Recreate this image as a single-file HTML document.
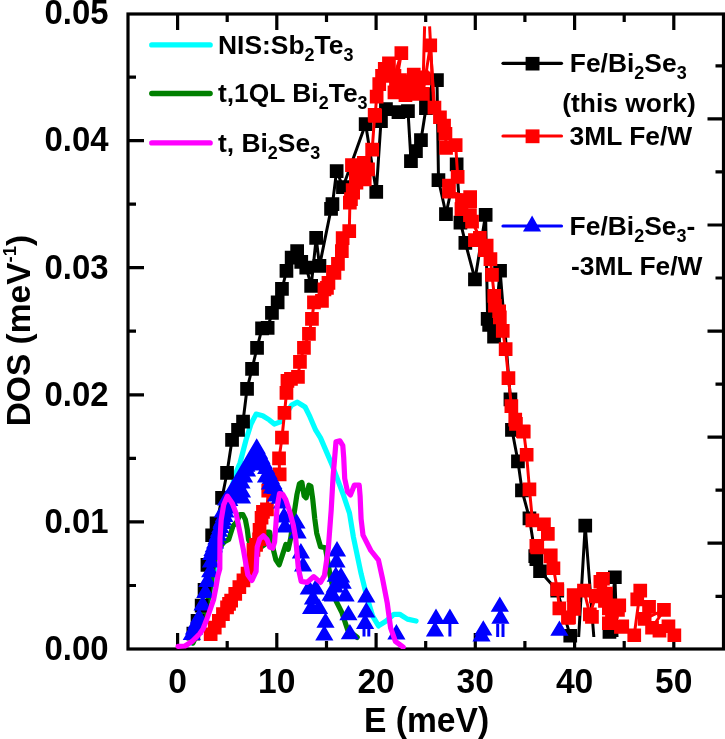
<!DOCTYPE html>
<html><head><meta charset="utf-8"><style>
html,body{margin:0;padding:0;background:#fff;width:725px;height:739px;overflow:hidden}
svg{display:block}
.t{font-family:'Liberation Sans',Arial,sans-serif;font-weight:bold;font-size:35px;fill:#000}
.l{font-family:'Liberation Sans',Arial,sans-serif;font-weight:bold;font-size:26.4px;fill:#000}
</style></head><body>
<svg width="725" height="739" viewBox="0 0 725 739">
<defs><clipPath id="cp"><rect x="128" y="14" width="595.5" height="635"/></clipPath><clipPath id="cl"><rect x="128" y="14" width="595.5" height="623"/></clipPath></defs>
<rect x="128.0" y="14.0" width="595.5" height="635.0" fill="none" stroke="#000" stroke-width="3.2"/>
<path d="M177.6 649.0v-16M177.6 14.0v16M227.2 649.0v-8M227.2 14.0v8M276.8 649.0v-16M276.8 14.0v16M326.5 649.0v-8M326.5 14.0v8M376.1 649.0v-16M376.1 14.0v16M425.7 649.0v-8M425.7 14.0v8M475.3 649.0v-16M475.3 14.0v16M524.9 649.0v-8M524.9 14.0v8M574.6 649.0v-16M574.6 14.0v16M624.2 649.0v-8M624.2 14.0v8M673.8 649.0v-16M673.8 14.0v16M128.0 585.5h8M128.0 521.9h16M128.0 458.4h8M128.0 394.8h16M128.0 331.2h8M128.0 267.7h16M128.0 204.1h8M128.0 140.6h16M128.0 77.1h8M723.5 596.3h-8M723.5 543.2h-16M723.5 490.2h-8M723.5 437.2h-16M723.5 384.1h-8M723.5 331.1h-16M723.5 278.0h-8M723.5 225.0h-16M723.5 171.9h-8M723.5 118.9h-16M723.5 65.8h-8" stroke="#000" stroke-width="3.2" fill="none"/>
<text transform="translate(108.6,659.8) scale(0.94,1)" text-anchor="end" class="t">0.00</text>
<text transform="translate(108.6,532.7) scale(0.94,1)" text-anchor="end" class="t">0.01</text>
<text transform="translate(108.6,405.6) scale(0.94,1)" text-anchor="end" class="t">0.02</text>
<text transform="translate(108.6,278.5) scale(0.94,1)" text-anchor="end" class="t">0.03</text>
<text transform="translate(108.6,151.4) scale(0.94,1)" text-anchor="end" class="t">0.04</text>
<text transform="translate(108.6,24.3) scale(0.94,1)" text-anchor="end" class="t">0.05</text>
<text transform="translate(177.6,693.3) scale(0.96,1)" text-anchor="middle" class="t">0</text>
<text transform="translate(276.8,693.3) scale(0.96,1)" text-anchor="middle" class="t">10</text>
<text transform="translate(376.1,693.3) scale(0.96,1)" text-anchor="middle" class="t">20</text>
<text transform="translate(475.3,693.3) scale(0.96,1)" text-anchor="middle" class="t">30</text>
<text transform="translate(574.6,693.3) scale(0.96,1)" text-anchor="middle" class="t">40</text>
<text transform="translate(673.8,693.3) scale(0.96,1)" text-anchor="middle" class="t">50</text>
<text transform="translate(426.6,731.8) scale(0.96,1)" text-anchor="middle" class="t">E (meV)</text>
<text transform="translate(29.8,330.6) rotate(-90)" text-anchor="middle" class="t" style="font-size:33.5px">DOS (meV<tspan dy="-14" font-size="18.5">-1</tspan><tspan dy="14">)</tspan></text>
<g clip-path="url(#cp)">
<path d="M192.0 643.0 L198.0 628.0 L205.0 610.0 L210.0 595.0 L215.0 576.0 L222.0 540.0 L228.0 505.0 L234.7 476.0 L240.0 463.0 L246.0 440.0 L251.0 424.0 L256.1 414.1 L262.7 415.8 L269.3 419.9 L274.3 424.1 L280.9 421.6 L286.0 414.0 L291.6 405.1 L297.4 402.2 L305.1 407.0 L309.9 416.7 L315.7 430.2 L320.5 437.9 L326.3 451.4 L332.1 465.0 L337.9 480.4 L343.7 495.9 L349.5 513.2 L353.4 537.0 L361.1 573.7 L366.9 596.9 L372.7 616.2 L378.5 625.9 L386.2 621.0 L393.9 614.3 L399.7 614.3 L407.4 619.1 L416.1 621.0" fill="none" stroke="#00ffff" stroke-width="5.2" stroke-linejoin="round" stroke-linecap="round"/>
<path d="M193.0 643.0 L197.0 634.0 L202.0 622.0 L208.0 600.0 L211.0 584.0 L213.6 565.0 L218.0 550.0 L224.0 542.0 L228.7 539.5 L233.0 526.0 L236.7 522.0 L239.8 514.7 L242.9 514.7 L245.4 519.7 L247.3 529.6 L248.5 539.5 L252.0 548.0 L258.0 549.0 L264.7 544.5 L267.1 532.1 L269.6 532.1 L272.6 546.6 L275.9 559.8 L279.2 564.8 L282.5 554.8 L285.8 544.5 L288.2 549.4 L290.7 538.3 L293.2 519.7 L296.9 494.8 L299.4 483.7 L301.9 482.4 L304.1 495.9 L306.1 497.8 L309.0 485.2 L310.9 486.2 L312.8 499.7 L314.8 519.0 L316.7 533.2 L320.5 546.7 L325.4 547.7 L330.0 575.0 L336.0 600.8 L341.8 612.3 L347.6 629.7 L357.2 637.4" fill="none" stroke="#008000" stroke-width="5.2" stroke-linejoin="round" stroke-linecap="round"/>
<path clip-path="url(#cl)" d="M193.3 633.6 L197.5 621.0 L201.7 605.6 L204.5 590.0 L207.4 565.0 L212.2 535.3 L216.5 523.5 L222.0 498.0 L227.0 473.0 L232.0 440.0 L238.0 430.0 L243.0 421.6 L247.0 389.0 L252.0 369.0 L257.0 348.0 L262.0 328.4 L267.6 328.0 L272.0 313.0 L277.6 302.4 L282.0 289.0 L286.5 271.0 L291.7 257.7 L297.2 251.1 L301.3 261.9 L306.3 267.6 L311.2 285.9 L316.2 237.9 L319.5 266.0 L331.1 208.9 L332.5 204.0 L336.6 171.0 L343.0 187.0 L365.6 124.0 L376.3 191.8 L381.0 121.0 L386.0 109.0 L398.5 112.0 L408.0 111.0 L411.0 161.0 L416.0 151.0 L421.0 140.0 L426.0 108.0 L426.0 95.0 L437.0 80.0 L438.5 180.0 L446.0 214.0 L456.7 164.3 L460.5 222.5 L465.4 242.8 L475.0 279.4 L485.6 214.8 L487.6 319.0 L489.2 325.0 L494.1 336.7 L500.1 270.8 L510.5 399.4 L512.0 430.0 L518.0 461.5 L522.0 490.5 L529.5 518.5 L535.3 556.1 L536.4 559.3 L540.1 571.3 L557.2 590.6 L570.2 635.8 L577.0 665.0 L585.2 525.6 L596.0 665.0 L609.5 632.0 L614.9 577.2 L618.0 665.0" fill="none" stroke="#000" stroke-width="3" stroke-linejoin="round"/>
<path d="M186.5 626.8h13.7v13.7h-13.7zM190.7 614.1h13.7v13.7h-13.7zM194.8 598.8h13.7v13.7h-13.7zM197.7 583.1h13.7v13.7h-13.7zM200.6 558.1h13.7v13.7h-13.7zM205.3 528.4h13.7v13.7h-13.7zM209.7 516.6h13.7v13.7h-13.7zM215.2 491.1h13.7v13.7h-13.7zM220.2 466.1h13.7v13.7h-13.7zM225.2 433.1h13.7v13.7h-13.7zM231.2 423.1h13.7v13.7h-13.7zM236.2 414.8h13.7v13.7h-13.7zM240.2 382.1h13.7v13.7h-13.7zM245.2 362.1h13.7v13.7h-13.7zM250.2 341.1h13.7v13.7h-13.7zM255.2 321.5h13.7v13.7h-13.7zM260.8 321.1h13.7v13.7h-13.7zM265.1 306.1h13.7v13.7h-13.7zM270.8 295.5h13.7v13.7h-13.7zM275.1 282.1h13.7v13.7h-13.7zM279.6 264.1h13.7v13.7h-13.7zM284.8 250.8h13.7v13.7h-13.7zM290.3 244.2h13.7v13.7h-13.7zM294.4 255.0h13.7v13.7h-13.7zM299.4 260.8h13.7v13.7h-13.7zM304.3 279.0h13.7v13.7h-13.7zM309.3 231.1h13.7v13.7h-13.7zM312.6 259.1h13.7v13.7h-13.7zM324.2 202.1h13.7v13.7h-13.7zM325.6 197.2h13.7v13.7h-13.7zM329.8 164.2h13.7v13.7h-13.7zM336.1 180.2h13.7v13.7h-13.7zM358.8 117.2h13.7v13.7h-13.7zM369.4 185.0h13.7v13.7h-13.7zM374.1 114.2h13.7v13.7h-13.7zM379.1 102.2h13.7v13.7h-13.7zM391.6 105.2h13.7v13.7h-13.7zM401.1 104.2h13.7v13.7h-13.7zM404.1 154.2h13.7v13.7h-13.7zM409.1 144.2h13.7v13.7h-13.7zM414.1 133.2h13.7v13.7h-13.7zM419.1 101.2h13.7v13.7h-13.7zM419.1 88.2h13.7v13.7h-13.7zM430.1 73.2h13.7v13.7h-13.7zM431.6 173.2h13.7v13.7h-13.7zM439.1 207.2h13.7v13.7h-13.7zM449.8 157.5h13.7v13.7h-13.7zM453.6 215.7h13.7v13.7h-13.7zM458.5 236.0h13.7v13.7h-13.7zM468.1 272.5h13.7v13.7h-13.7zM478.8 208.0h13.7v13.7h-13.7zM480.8 312.1h13.7v13.7h-13.7zM482.3 318.1h13.7v13.7h-13.7zM487.2 329.8h13.7v13.7h-13.7zM493.2 263.9h13.7v13.7h-13.7zM503.6 392.5h13.7v13.7h-13.7zM505.1 423.1h13.7v13.7h-13.7zM511.1 454.6h13.7v13.7h-13.7zM515.1 483.6h13.7v13.7h-13.7zM522.6 511.6h13.7v13.7h-13.7zM528.4 549.2h13.7v13.7h-13.7zM529.5 552.4h13.7v13.7h-13.7zM533.2 564.4h13.7v13.7h-13.7zM550.4 583.8h13.7v13.7h-13.7zM563.4 628.9h13.7v13.7h-13.7zM570.1 658.1h13.7v13.7h-13.7zM578.4 518.8h13.7v13.7h-13.7zM589.1 658.1h13.7v13.7h-13.7zM602.6 625.1h13.7v13.7h-13.7zM608.0 570.4h13.7v13.7h-13.7zM611.1 658.1h13.7v13.7h-13.7z" fill="#000"/>
<path clip-path="url(#cl)" d="M210.7 634.3 L229.0 604.0 L247.5 573.6 L250.5 562.0 L253.4 550.0 L256.0 545.0 L259.0 539.2 L259.5 530.0 L261.5 517.7 L263.0 512.0 L267.0 509.4 L268.3 490.6 L279.6 474.5 L279.1 458.4 L282.0 437.6 L284.5 413.0 L286.5 393.0 L287.5 381.0 L291.0 379.0 L298.0 377.0 L300.0 362.0 L304.0 348.0 L309.0 334.0 L312.0 319.0 L314.0 302.5 L322.0 301.0 L324.5 289.5 L328.5 283.0 L334.5 273.0 L341.9 251.0 L342.7 238.0 L349.3 231.0 L349.9 202.5 L351.0 199.0 L353.2 192.6 L352.6 190.0 L356.5 182.7 L355.9 176.6 L362.5 173.3 L364.8 179.4 L368.1 169.4 L363.9 162.8 L372.2 149.6 L374.7 114.8 L375.2 115.9 L376.6 96.6 L379.3 84.1 L382.1 75.9 L384.8 69.0 L389.0 63.4 L394.5 75.9 L401.4 53.1 L394.5 92.4 L405.5 95.2 L413.8 74.5 L417.9 93.8 L422.1 77.2 L423.9 78.3 L422.9 93.8 L430.3 45.5 L434.5 107.6 L440.0 117.2 L444.1 125.5 L445.5 133.8 L446.1 147.9 L455.7 145.0 L457.7 176.8 L449.0 185.5 L449.0 191.6 L470.2 197.1 L470.2 201.2 L461.5 209.0 L472.1 221.5 L479.9 237.9 L486.6 245.6 L490.5 259.2 L492.0 275.0 L494.3 295.9 L495.0 305.8 L499.2 311.3 L499.9 317.4 L502.8 330.9 L505.6 349.2 L508.5 378.2 L511.4 406.2 L515.3 419.7 L516.0 423.9 L523.0 431.3 L523.7 431.6 L526.6 454.8 L529.5 489.5 L532.4 520.4 L544.0 524.3 L547.9 533.9 L537.2 547.4 L536.4 546.0 L550.8 555.2 L550.5 556.4 L553.5 568.3 L557.2 589.1 L559.4 608.5 L569.1 617.4 L573.6 595.1 L584.0 590.6 L589.9 614.4 L600.4 581.7 L595.9 596.5 L603.0 578.7 L606.0 593.6 L609.3 607.0 L608.9 608.5 L610.8 623.3 L619.3 605.5 L608.9 623.3 L622.3 626.3 L634.2 635.2 L640.2 590.6 L637.2 599.5 L649.1 607.0 L644.6 618.9 L664.0 610.0 L652.1 627.8 L659.5 630.8 L668.5 626.3 L674.4 635.2" fill="none" stroke="#ff0000" stroke-width="3" stroke-linejoin="round"/>
<path d="M423.2 80L424.6 26.4M429.6 26.4L433.8 106" stroke="#ff0000" stroke-width="3" fill="none"/>
<path d="M203.8 627.4h13.7v13.7h-13.7zM222.2 597.1h13.7v13.7h-13.7zM240.7 566.8h13.7v13.7h-13.7zM243.7 555.1h13.7v13.7h-13.7zM246.6 543.1h13.7v13.7h-13.7zM249.2 538.1h13.7v13.7h-13.7zM252.2 532.4h13.7v13.7h-13.7zM252.7 523.1h13.7v13.7h-13.7zM254.7 510.9h13.7v13.7h-13.7zM256.1 505.1h13.7v13.7h-13.7zM260.1 502.5h13.7v13.7h-13.7zM261.4 483.8h13.7v13.7h-13.7zM272.8 467.6h13.7v13.7h-13.7zM272.2 451.5h13.7v13.7h-13.7zM275.1 430.8h13.7v13.7h-13.7zM277.6 406.1h13.7v13.7h-13.7zM279.6 386.1h13.7v13.7h-13.7zM280.6 374.1h13.7v13.7h-13.7zM284.1 372.1h13.7v13.7h-13.7zM291.1 370.1h13.7v13.7h-13.7zM293.1 355.1h13.7v13.7h-13.7zM297.1 341.1h13.7v13.7h-13.7zM302.1 327.1h13.7v13.7h-13.7zM305.1 312.1h13.7v13.7h-13.7zM307.1 295.6h13.7v13.7h-13.7zM315.1 294.1h13.7v13.7h-13.7zM317.6 282.6h13.7v13.7h-13.7zM321.6 276.1h13.7v13.7h-13.7zM327.6 266.1h13.7v13.7h-13.7zM335.0 244.2h13.7v13.7h-13.7zM335.8 231.2h13.7v13.7h-13.7zM342.4 224.2h13.7v13.7h-13.7zM343.0 195.7h13.7v13.7h-13.7zM344.1 192.2h13.7v13.7h-13.7zM346.3 185.8h13.7v13.7h-13.7zM345.8 183.2h13.7v13.7h-13.7zM349.6 175.8h13.7v13.7h-13.7zM349.0 169.8h13.7v13.7h-13.7zM355.6 166.5h13.7v13.7h-13.7zM357.9 172.6h13.7v13.7h-13.7zM361.2 162.6h13.7v13.7h-13.7zM357.0 156.0h13.7v13.7h-13.7zM365.3 142.8h13.7v13.7h-13.7zM367.8 108.0h13.7v13.7h-13.7zM368.3 109.1h13.7v13.7h-13.7zM369.8 89.8h13.7v13.7h-13.7zM372.4 77.2h13.7v13.7h-13.7zM375.2 69.1h13.7v13.7h-13.7zM377.9 62.1h13.7v13.7h-13.7zM382.1 56.5h13.7v13.7h-13.7zM387.6 69.1h13.7v13.7h-13.7zM394.5 46.2h13.7v13.7h-13.7zM387.6 85.6h13.7v13.7h-13.7zM398.6 88.4h13.7v13.7h-13.7zM406.9 67.7h13.7v13.7h-13.7zM411.0 87.0h13.7v13.7h-13.7zM415.2 70.4h13.7v13.7h-13.7zM417.0 71.5h13.7v13.7h-13.7zM416.0 87.0h13.7v13.7h-13.7zM423.4 38.6h13.7v13.7h-13.7zM427.6 100.8h13.7v13.7h-13.7zM433.1 110.4h13.7v13.7h-13.7zM437.2 118.7h13.7v13.7h-13.7zM438.6 127.0h13.7v13.7h-13.7zM439.2 141.1h13.7v13.7h-13.7zM448.8 138.2h13.7v13.7h-13.7zM450.8 170.0h13.7v13.7h-13.7zM442.1 178.7h13.7v13.7h-13.7zM442.1 184.8h13.7v13.7h-13.7zM463.3 190.2h13.7v13.7h-13.7zM463.3 194.3h13.7v13.7h-13.7zM454.6 202.2h13.7v13.7h-13.7zM465.2 214.7h13.7v13.7h-13.7zM473.0 231.1h13.7v13.7h-13.7zM479.8 238.8h13.7v13.7h-13.7zM483.6 252.3h13.7v13.7h-13.7zM485.1 268.1h13.7v13.7h-13.7zM487.4 289.0h13.7v13.7h-13.7zM488.1 298.9h13.7v13.7h-13.7zM492.3 304.4h13.7v13.7h-13.7zM493.0 310.5h13.7v13.7h-13.7zM495.9 324.0h13.7v13.7h-13.7zM498.8 342.3h13.7v13.7h-13.7zM501.6 371.3h13.7v13.7h-13.7zM504.5 399.3h13.7v13.7h-13.7zM508.4 412.8h13.7v13.7h-13.7zM509.1 417.0h13.7v13.7h-13.7zM516.1 424.4h13.7v13.7h-13.7zM516.9 424.8h13.7v13.7h-13.7zM519.8 447.9h13.7v13.7h-13.7zM522.6 482.6h13.7v13.7h-13.7zM525.5 513.5h13.7v13.7h-13.7zM537.1 517.4h13.7v13.7h-13.7zM541.0 527.0h13.7v13.7h-13.7zM530.4 540.5h13.7v13.7h-13.7zM529.5 539.1h13.7v13.7h-13.7zM543.9 548.4h13.7v13.7h-13.7zM543.6 549.5h13.7v13.7h-13.7zM546.6 561.4h13.7v13.7h-13.7zM550.4 582.2h13.7v13.7h-13.7zM552.5 601.6h13.7v13.7h-13.7zM562.2 610.5h13.7v13.7h-13.7zM566.8 588.2h13.7v13.7h-13.7zM577.1 583.8h13.7v13.7h-13.7zM583.0 607.5h13.7v13.7h-13.7zM593.5 574.9h13.7v13.7h-13.7zM589.0 589.6h13.7v13.7h-13.7zM596.1 571.9h13.7v13.7h-13.7zM599.1 586.8h13.7v13.7h-13.7zM602.4 600.1h13.7v13.7h-13.7zM602.0 601.6h13.7v13.7h-13.7zM603.9 616.4h13.7v13.7h-13.7zM612.4 598.6h13.7v13.7h-13.7zM602.0 616.4h13.7v13.7h-13.7zM615.4 619.4h13.7v13.7h-13.7zM627.4 628.4h13.7v13.7h-13.7zM633.4 583.8h13.7v13.7h-13.7zM630.4 592.6h13.7v13.7h-13.7zM642.2 600.1h13.7v13.7h-13.7zM637.8 612.0h13.7v13.7h-13.7zM657.1 603.1h13.7v13.7h-13.7zM645.2 620.9h13.7v13.7h-13.7zM652.6 623.9h13.7v13.7h-13.7zM661.6 619.4h13.7v13.7h-13.7zM667.5 628.4h13.7v13.7h-13.7zM203.8 627.4h13.7v13.7h-13.7zM207.9 620.7h13.7v13.7h-13.7zM212.0 614.0h13.7v13.7h-13.7zM216.1 607.2h13.7v13.7h-13.7zM220.2 600.5h13.7v13.7h-13.7zM224.3 593.7h13.7v13.7h-13.7zM228.4 587.0h13.7v13.7h-13.7zM232.5 580.2h13.7v13.7h-13.7zM236.6 573.5h13.7v13.7h-13.7zM240.7 566.8h13.7v13.7h-13.7zM561.1 611.1h13.7v13.7h-13.7zM567.1 602.1h13.7v13.7h-13.7zM585.1 610.1h13.7v13.7h-13.7zM590.1 589.1h13.7v13.7h-13.7zM598.1 594.1h13.7v13.7h-13.7zM605.1 605.1h13.7v13.7h-13.7zM611.1 603.1h13.7v13.7h-13.7zM614.1 620.1h13.7v13.7h-13.7zM468.1 233.2h13.7v13.7h-13.7zM478.1 243.2h13.7v13.7h-13.7zM463.1 208.2h13.7v13.7h-13.7zM455.1 193.2h13.7v13.7h-13.7zM326.1 265.1h13.7v13.7h-13.7zM331.1 257.1h13.7v13.7h-13.7zM320.1 281.1h13.7v13.7h-13.7zM393.1 73.2h13.7v13.7h-13.7zM401.1 75.2h13.7v13.7h-13.7zM409.1 77.2h13.7v13.7h-13.7zM389.1 79.2h13.7v13.7h-13.7zM403.1 83.2h13.7v13.7h-13.7zM345.1 158.2h13.7v13.7h-13.7z" fill="#ff0000"/>
<path d="M364.0 628.0V636.4M368.8 628.0V636.4M449.9 624.0V636.6M497.7 623.7V636.9M503.0 623.7V636.9" stroke="#0000ff" stroke-width="3"/>
<path d="M191.8 624.6L200.9 640.0H182.7zM194.0 619.0L203.1 634.4H184.9zM196.5 613.5L205.6 628.9H187.4zM199.0 608.0L208.1 623.4H189.9zM202.6 595.0L211.7 610.4H193.5zM205.3 582.6L214.4 598.0H196.2zM207.4 571.6L216.5 587.0H198.3zM210.2 561.9L219.3 577.3H201.1zM211.0 552.0L220.1 567.4H201.9zM211.2 544.6L220.3 560.0H202.1zM212.5 540.7L221.6 556.1H203.4zM213.8 536.9L222.9 552.3H204.7zM215.1 533.0L224.2 548.4H206.0zM216.4 529.1L225.5 544.5H207.3zM217.7 525.3L226.8 540.7H208.6zM219.0 521.4L228.1 536.8H209.9zM220.3 517.5L229.4 532.9H211.2zM221.6 513.7L230.7 529.1H212.5zM222.8 509.8L231.9 525.2H213.7zM224.1 506.0L233.2 521.4H215.0zM225.4 502.1L234.5 517.5H216.3zM226.7 498.2L235.8 513.6H217.6zM228.0 494.4L237.1 509.8H218.9zM229.3 490.5L238.4 505.9H220.2zM230.6 486.6L239.7 502.0H221.5zM231.9 482.8L241.0 498.2H222.8zM233.2 478.9L242.3 494.3H224.1zM226.1 490.0L235.2 505.4H217.0zM223.9 506.6L233.0 522.0H214.8zM222.8 502.1L231.9 517.5H213.7zM221.7 512.1L230.8 527.5H212.6zM233.2 478.9L242.3 494.3H224.1zM235.8 474.4L244.9 489.8H226.7zM238.4 469.9L247.5 485.3H229.3zM241.0 465.4L250.1 480.8H231.9zM243.6 460.9L252.7 476.3H234.5zM246.3 456.3L255.4 471.7H237.2zM248.9 451.8L258.0 467.2H239.8zM251.5 447.3L260.6 462.7H242.4zM254.1 442.8L263.2 458.2H245.0zM256.7 438.3L265.8 453.7H247.6zM259.1 443.3L268.2 458.7H250.0zM261.4 448.4L270.5 463.8H252.3zM263.8 453.4L272.9 468.8H254.7zM266.2 458.5L275.3 473.9H257.1zM268.5 463.5L277.6 478.9H259.4zM270.9 468.6L280.0 484.0H261.8zM273.3 473.6L282.4 489.0H264.2zM275.6 478.7L284.7 494.1H266.5zM278.0 483.7L287.1 499.1H268.9zM280.0 488.4L289.1 503.8H270.9zM282.0 493.0L291.1 508.4H272.9zM272.0 478.0L281.1 493.4H262.9zM276.0 486.0L285.1 501.4H266.9zM236.0 485.0L245.1 500.4H226.9zM239.0 479.0L248.1 494.4H229.9zM241.5 473.0L250.6 488.4H232.4zM244.0 467.0L253.1 482.4H234.9zM247.0 461.0L256.1 476.4H237.9zM313.0 589.0L322.1 604.4H303.9zM341.0 567.0L350.1 582.4H331.9zM334.8 577.0L343.9 592.4H325.7zM330.7 585.3L339.8 600.7H321.6zM242.0 482.0L251.1 497.4H232.9zM242.0 488.0L251.1 503.4H232.9zM258.0 455.0L267.1 470.4H248.9zM270.0 474.0L279.1 489.4H260.9zM266.0 467.0L275.1 482.4H256.9zM284.0 507.0L293.1 522.4H274.9zM285.0 517.0L294.1 532.4H275.9zM296.5 513.2L305.6 528.6H287.4zM297.6 523.1L306.7 538.5H288.5zM300.9 543.0L310.0 558.4H291.8zM303.1 556.2L312.2 571.6H294.0zM308.8 579.1L317.9 594.5H299.7zM315.7 579.1L324.8 594.5H306.6zM311.1 598.6L320.2 614.0H302.0zM319.1 598.6L328.2 614.0H310.0zM325.5 612.4L334.6 627.8H316.4zM324.3 625.0L333.4 640.4H315.2zM337.0 541.0L346.1 556.4H327.9zM336.5 552.0L345.6 567.4H327.4zM335.8 566.4L344.9 581.8H326.7zM342.7 573.3L351.8 588.7H333.6zM332.9 586.0L342.0 601.4H323.8zM345.6 586.0L354.7 601.4H336.5zM348.4 604.9L357.5 620.3H339.3zM349.9 623.9L359.0 639.3H340.8zM366.3 587.1L375.4 602.5H357.2zM366.3 602.1L375.4 617.5H357.2zM365.1 613.6L374.2 629.0H356.0zM396.4 624.1L405.5 639.5H387.3zM436.0 608.6L445.1 624.0H426.9zM435.0 621.0L444.1 636.4H425.9zM449.9 608.6L459.0 624.0H440.8zM483.3 620.2L492.4 635.6H474.2zM481.5 626.0L490.6 641.4H472.4zM499.8 596.4L508.9 611.8H490.7zM500.4 608.3L509.5 623.7H491.3zM559.4 620.4L568.5 635.8H550.3z" fill="#0000ff"/>
<path d="M178.0 646.4 L185.0 646.0 L192.0 641.5 L199.5 634.0 L203.0 629.0 L206.5 620.0 L209.5 611.5 L213.5 600.0 L215.8 588.0 L217.8 576.0 L219.8 568.8 L220.0 538.3 L221.2 519.7 L223.7 504.8 L227.4 496.1 L232.4 503.5 L236.1 513.4 L238.6 525.9 L241.1 538.3 L243.6 550.7 L247.8 574.7 L251.9 580.5 L256.1 571.4 L257.2 547.0 L259.7 538.9 L263.4 535.8 L267.1 539.5 L269.6 547.0 L272.7 548.2 L274.6 542.0 L275.8 525.9 L277.1 507.2 L279.5 493.6 L282.7 494.2 L285.8 499.8 L289.5 511.0 L293.2 524.6 L295.7 538.3 L298.3 567.9 L301.2 581.4 L307.0 582.4 L313.8 576.6 L320.5 582.4 L324.4 575.6 L328.3 548.6 L331.2 510.0 L333.1 476.5 L336.0 441.8 L339.9 440.8 L342.8 445.6 L343.7 457.2 L344.7 478.5 L347.6 492.0 L350.5 494.9 L354.3 485.2 L359.2 485.2 L360.1 495.9 L361.1 519.0 L363.0 535.1 L370.8 550.5 L378.5 560.2 L382.3 577.6 L387.2 602.7 L390.6 627.9 L395.4 641.4 L403.2 647.2" fill="none" stroke="#ff00ff" stroke-width="5.2" stroke-linejoin="round" stroke-linecap="round"/>
</g>
<path d="M151.8 44.9H210.1" stroke="#00ffff" stroke-width="5.4" stroke-linecap="round"/>
<path d="M151.8 93.5H210.1" stroke="#008000" stroke-width="5.4" stroke-linecap="round"/>
<path d="M151.8 142.9H210.1" stroke="#ff00ff" stroke-width="5.4" stroke-linecap="round"/>
<text x="218" y="54" class="l">NIS:Sb<tspan dy="7" font-size="18">2</tspan><tspan dy="-7">Te<tspan dy="7" font-size="18">3</tspan><tspan dy="-7"></tspan></tspan></text>
<text x="218" y="102.1" class="l">t,1QL Bi<tspan dy="7" font-size="18">2</tspan><tspan dy="-7">Te<tspan dy="7" font-size="18">3</tspan><tspan dy="-7"></tspan></tspan></text>
<text x="218" y="151.8" class="l">t, Bi<tspan dy="7" font-size="18">2</tspan><tspan dy="-7">Se<tspan dy="7" font-size="18">3</tspan><tspan dy="-7"></tspan></tspan></text>
<path d="M503 63.3H561.5" stroke="#000" stroke-width="3.2" stroke-linecap="round"/>
<rect x="525.6" y="56.9" width="13.9" height="13.6" fill="#000"/>
<path d="M503 136H561.5" stroke="#ff0000" stroke-width="3.2" stroke-linecap="round"/>
<rect x="525.6" y="129.4" width="13.9" height="13.8" fill="#ff0000"/>
<path d="M503 226H561.5" stroke="#0000ff" stroke-width="3.2" stroke-linecap="round"/>
<path d="M532.1 215.6L541.1 231.5H523Z" fill="#0000ff"/>
<text x="569.8" y="72" class="l">Fe/Bi<tspan dy="7" font-size="18">2</tspan><tspan dy="-7">Se<tspan dy="7" font-size="18">3</tspan><tspan dy="-7"></tspan></tspan></text>
<text x="562.3" y="111.5" class="l">(this work)</text>
<text x="569.5" y="145" class="l">3ML Fe/W</text>
<text x="569.6" y="234.5" class="l">Fe/Bi<tspan dy="7" font-size="18">2</tspan><tspan dy="-7">Se<tspan dy="7" font-size="18">3</tspan><tspan dy="-7">-</tspan></tspan></text>
<text x="571" y="274.5" class="l">-3ML Fe/W</text>
</svg>
</body></html>
